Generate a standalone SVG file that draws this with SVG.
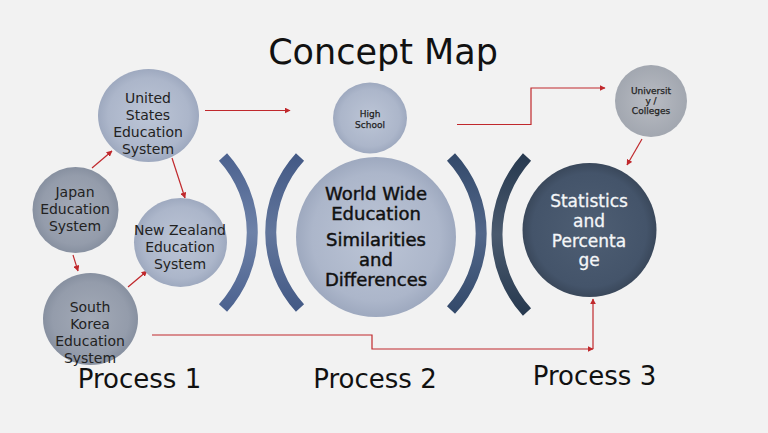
<svg xmlns="http://www.w3.org/2000/svg" width="768" height="433" viewBox="0 0 768 433">
<defs>
<style>
text{font-family:"DejaVu Sans","Liberation Sans",sans-serif;text-anchor:middle}
.nt{font-size:14px;fill:#222}
.sm{font-size:9px;fill:#222;stroke:#222;stroke-width:0.25}
.big{font-size:18px;fill:#111;stroke:#111;stroke-width:0.45}
.st{font-size:17px;fill:#f4f6f8;stroke:#f4f6f8;stroke-width:0.3}
.proc{font-size:26px;fill:#111}
.con{fill:none;stroke:#c0282c;stroke-width:1.2}
.arc{fill:none;stroke-width:11;stroke-linecap:butt}
</style>
<radialGradient id="gLight" cx="50%" cy="50%" r="50%">
<stop offset="0" stop-color="#bcc5d6"/><stop offset="0.8" stop-color="#acb6ca"/><stop offset="1" stop-color="#9ea9bf"/>
</radialGradient>
<radialGradient id="gGray" cx="50%" cy="50%" r="50%">
<stop offset="0" stop-color="#a3aab7"/><stop offset="0.8" stop-color="#949cab"/><stop offset="1" stop-color="#8790a0"/>
</radialGradient>
<radialGradient id="gUni" cx="50%" cy="50%" r="50%">
<stop offset="0" stop-color="#b9bcc3"/><stop offset="1" stop-color="#a2a7b0"/>
</radialGradient>
<radialGradient id="gDark" cx="50%" cy="50%" r="50%">
<stop offset="0" stop-color="#4e5e73"/><stop offset="0.85" stop-color="#44546a"/><stop offset="1" stop-color="#3a485b"/>
</radialGradient>
<linearGradient id="a1" x1="0" y1="0" x2="0" y2="1">
<stop offset="0" stop-color="#4d6390"/><stop offset="0.5" stop-color="#6e82a8"/><stop offset="1" stop-color="#4d6390"/>
</linearGradient>
<linearGradient id="a2" x1="0" y1="0" x2="0" y2="1">
<stop offset="0" stop-color="#445a86"/><stop offset="0.5" stop-color="#62769c"/><stop offset="1" stop-color="#445a86"/>
</linearGradient>
<linearGradient id="a3" x1="0" y1="0" x2="0" y2="1">
<stop offset="0" stop-color="#344a6b"/><stop offset="0.5" stop-color="#52678a"/><stop offset="1" stop-color="#344a6b"/>
</linearGradient>
<linearGradient id="a4" x1="0" y1="0" x2="0" y2="1">
<stop offset="0" stop-color="#283a50"/><stop offset="0.5" stop-color="#4a5a6e"/><stop offset="1" stop-color="#283a50"/>
</linearGradient>
<marker id="ar" viewBox="0 0 10 10" refX="9" refY="5" markerWidth="6" markerHeight="6" markerUnits="userSpaceOnUse" orient="auto">
<path d="M0,0 L10,5 L0,10 z" fill="#c0282c"/>
</marker>
</defs>
<rect x="0" y="0" width="768" height="433" fill="#f2f2f2"/>
<text x="383" y="64" style="font-size:35px;fill:#111">Concept Map</text>

<g id="arcs">
<path class="arc" stroke="url(#a1)" d="M223,157 A112,112 0 0 1 223,308"/>
<path class="arc" stroke="url(#a2)" d="M300,157 A112,112 0 0 0 300,308"/>
<path class="arc" stroke="url(#a3)" d="M451,157 A112,112 0 0 1 451,310"/>
<path class="arc" stroke="url(#a4)" d="M527,157 A115,115 0 0 0 527,312"/>
</g>

<g id="connectors">
<line class="con" x1="205" y1="110.5" x2="290" y2="110.5" marker-end="url(#ar)"/>
<line class="con" x1="92" y1="168" x2="112" y2="151" marker-end="url(#ar)"/>
<line class="con" x1="172" y1="158" x2="185" y2="198" marker-end="url(#ar)"/>
<line class="con" x1="73" y1="255" x2="78" y2="271" marker-end="url(#ar)"/>
<line class="con" x1="128" y1="287" x2="147" y2="271" marker-end="url(#ar)"/>
<polyline class="con" points="152,335 372,335 372,349 593,349" marker-end="url(#ar)"/>
<line class="con" x1="593" y1="349" x2="593" y2="299" marker-end="url(#ar)"/>
<polyline class="con" points="457,124.5 531,124.5 531,88 605,88" marker-end="url(#ar)"/>
<line class="con" x1="642" y1="139" x2="627" y2="165" marker-end="url(#ar)"/>
</g>

<g id="us">
<ellipse cx="148.5" cy="115.5" rx="50.5" ry="46.5" fill="url(#gLight)"/>
<text class="nt" x="148" y="103">United</text>
<text class="nt" x="148" y="120">States</text>
<text class="nt" x="148" y="137">Education</text>
<text class="nt" x="148" y="154">System</text>
</g>
<g id="japan">
<ellipse cx="75.5" cy="210" rx="43" ry="43" fill="url(#gGray)"/>
<text class="nt" x="75" y="197">Japan</text>
<text class="nt" x="75" y="214">Education</text>
<text class="nt" x="75" y="231">System</text>
</g>
<g id="nz">
<ellipse cx="180.5" cy="242.5" rx="46.5" ry="44.5" fill="url(#gLight)"/>
<text class="nt" x="180" y="235">New Zealand</text>
<text class="nt" x="180" y="252">Education</text>
<text class="nt" x="180" y="269">System</text>
</g>
<g id="sk">
<ellipse cx="90.5" cy="319" rx="47.5" ry="46" fill="url(#gGray)"/>
<text class="nt" x="90" y="312">South</text>
<text class="nt" x="90" y="329">Korea</text>
<text class="nt" x="90" y="346">Education</text>
<text class="nt" x="90" y="363">System</text>
</g>
<g id="highschool">
<ellipse cx="370" cy="118" rx="37" ry="35.5" fill="url(#gLight)"/>
<text class="sm" x="370" y="117">High</text>
<text class="sm" x="370" y="128">School</text>
</g>
<g id="worldwide">
<circle cx="376" cy="237" r="80" fill="url(#gLight)"/>
<text class="big" x="376" y="200">World Wide</text>
<text class="big" x="376" y="220">Education</text>
<text class="big" x="376" y="246">Similarities</text>
<text class="big" x="376" y="266">and</text>
<text class="big" x="376" y="286">Differences</text>
</g>
<g id="universities">
<circle cx="651" cy="101" r="36" fill="url(#gUni)"/>
<text class="sm" x="651" y="94">Universit</text>
<text class="sm" x="651" y="104">y /</text>
<text class="sm" x="651" y="114">Colleges</text>
</g>
<g id="statistics">
<circle cx="589.5" cy="230" r="67" fill="url(#gDark)"/>
<text class="st" x="589" y="207">Statistics</text>
<text class="st" x="589" y="227">and</text>
<text class="st" x="589" y="247">Percenta</text>
<text class="st" x="589" y="266">ge</text>
</g>

<text class="proc" x="139.5" y="388">Process 1</text>
<text class="proc" x="375" y="388">Process 2</text>
<text class="proc" x="594.5" y="385">Process 3</text>
</svg>
